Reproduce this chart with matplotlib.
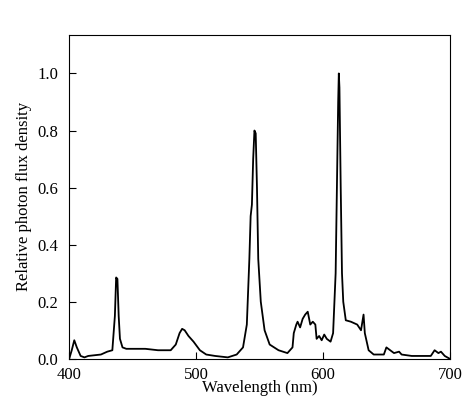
import matplotlib.pyplot as plt

plt.rcParams['font.family'] = ['Liberation Serif', 'DejaVu Serif']

# wavelength (nm) and relative photon flux density
wavelength = [400, 402, 404, 406, 409, 412, 415, 425, 430, 434, 436, 437, 438, 439, 440,
              442, 445, 460, 470, 480, 484, 487, 489, 491, 494, 498, 503, 508, 515, 525,
              532, 537, 540, 542, 543, 544, 545, 546, 547, 548, 549, 551, 554, 558, 565,
              572, 576, 577, 579, 580, 582, 584, 586, 588, 590, 592, 594, 595, 597, 599,
              601, 603, 606, 608, 610, 611, 612, 612.5, 613, 614, 615, 616, 618, 622, 627,
              630, 632, 633, 636, 640, 648, 650, 653, 656, 660, 662, 670, 685, 688, 691,
              693, 696, 700]
flux = [0.0, 0.03, 0.065, 0.04, 0.01, 0.005, 0.01, 0.015, 0.025, 0.03, 0.15, 0.285, 0.28, 0.15, 0.07,
        0.04, 0.035, 0.035, 0.03, 0.03, 0.05, 0.09, 0.105, 0.1, 0.08, 0.06, 0.03, 0.015, 0.01, 0.005,
        0.015, 0.04, 0.12, 0.35, 0.5, 0.54, 0.7, 0.8, 0.79, 0.6, 0.35, 0.2, 0.1, 0.05, 0.03,
        0.02, 0.04, 0.09, 0.12, 0.13, 0.11, 0.14, 0.155, 0.165, 0.12, 0.13, 0.12, 0.07, 0.08, 0.065,
        0.085, 0.07, 0.06, 0.09, 0.3, 0.6, 0.9, 1.0, 0.95, 0.6, 0.3, 0.2, 0.135, 0.13, 0.12,
        0.1, 0.155, 0.09, 0.03, 0.015, 0.015, 0.04, 0.03, 0.02, 0.025, 0.015, 0.01, 0.01, 0.03, 0.02,
        0.025, 0.01, 0.0]

fig = plt.figure(figsize=(4.74, 4.11), dpi=100)
ax = fig.add_axes([0.146, 0.127, 0.803, 0.788])
ax.plot(wavelength, flux, color='black', linewidth=1.3)
ax.set_xlim(400, 700)
ax.set_ylim(0, 1.135)
ax.set_xticks([400, 500, 600, 700])
ax.set_yticks([0.0, 0.2, 0.4, 0.6, 0.8, 1.0])
ax.set_yticklabels(['0.0', '0.2', '0.4', '0.6', '0.8', '1.0'])
ax.tick_params(direction='in', labelsize=12, length=5)
ax.tick_params(axis='y', pad=8)
ax.tick_params(axis='x', pad=6)
ax.set_xlabel('Wavelength (nm)', fontsize=12, labelpad=-2)
ax.set_ylabel('Relative photon flux density', fontsize=12)
fig.savefig('out.png')
